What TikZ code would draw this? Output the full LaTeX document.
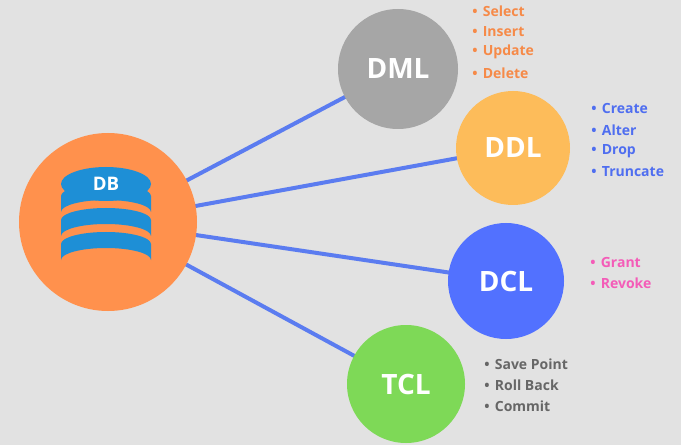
\documentclass[tikz,border=0pt]{standalone}
\usepackage{fontspec}
\setmainfont{Open Sans}
\begin{document}
\begin{tikzpicture}[x=0.75pt,y=-0.75pt,
  big/.style={circle,inner sep=0pt,font=\fontsize{21}{23}\selectfont\bfseries,text=white},
  itm/.style={anchor=west,inner sep=0pt,font=\fontsize{10.5}{12}\selectfont\bfseries}]
\definecolor{bg}{HTML}{E2E2E2}
\definecolor{lnk}{HTML}{5B7CF0}
\definecolor{cyl}{HTML}{1E8FD6}
\definecolor{cdb}{HTML}{FF914D}
\definecolor{cdml}{HTML}{A6A6A6}
\definecolor{cddl}{HTML}{FDBC5A}
\definecolor{cdcl}{HTML}{5271FF}
\definecolor{ctcl}{HTML}{7ED957}
\definecolor{tor}{HTML}{F68A48}
\definecolor{tbl}{HTML}{4F6EF0}
\definecolor{tpk}{HTML}{F45CB8}
\definecolor{tgy}{HTML}{666666}
\fill[bg] (0,0) rectangle (681,445);
\useasboundingbox (0,0) rectangle (681,445);
\node[big,minimum size=178*0.75pt] (db) at (108,222) {};
\node[big,minimum size=120*0.75pt] (dml) at (398,69) {};
\node[big,minimum size=114*0.75pt] (ddl) at (513,148) {};
\node[big,minimum size=116*0.75pt] (dcl) at (506,281) {};
\node[big,minimum size=118*0.75pt] (tcl) at (406,384) {};
\draw[lnk,line width=3pt] (db.center) -- (dml.center);
\draw[lnk,line width=3pt] (db.center) -- (ddl.center);
\draw[lnk,line width=3pt] (db.center) -- (dcl.center);
\draw[lnk,line width=3pt] (db.center) -- (tcl.center);
\fill[cdb] (db.center) circle (89);
\fill[cdml] (dml.center) circle (60);
\fill[cddl] (ddl.center) circle (57);
\fill[cdcl] (dcl.center) circle (58);
\fill[ctcl] (tcl.center) circle (59);
\node[big] at (dml) {DML};
\node[big] at (ddl) {DDL};
\node[big] at (dcl) {DCL};
\node[big] at (tcl) {TCL};
\foreach \t in {196,220,244}{
  \fill[cyl] (61,\t) arc[start angle=180,end angle=360,x radius=45,y radius=12]
    -- (151,\t+16) arc[start angle=0,end angle=-180,x radius=45,y radius=12] -- cycle;
}
\fill[cyl] (106,184) ellipse[x radius=45,y radius=17];
\node[big,font=\fontsize{14}{16}\selectfont\bfseries] (dbt) at (106,184) {DB};
\foreach \s/\y in {Select/11,Insert/32,Update/52,Delete/73}
  \node[itm,text=tor] at (472,\y) {\textbullet\hspace{4pt}\s};
\foreach \s/\y in {Create/109,Alter/130,Drop/151,Truncate/172}
  \node[itm,text=tbl] at (591,\y) {\textbullet\hspace{4pt}\s};
\foreach \s/\y in {Grant/262,Revoke/283}
  \node[itm,text=tpk] at (590,\y) {\textbullet\hspace{4pt}\s};
\foreach \s/\y in {Save Point/364,Roll Back/385,Commit/406}
  \node[itm,text=tgy] at (484,\y) {\textbullet\hspace{4pt}\s};
\end{tikzpicture}
\end{document}
